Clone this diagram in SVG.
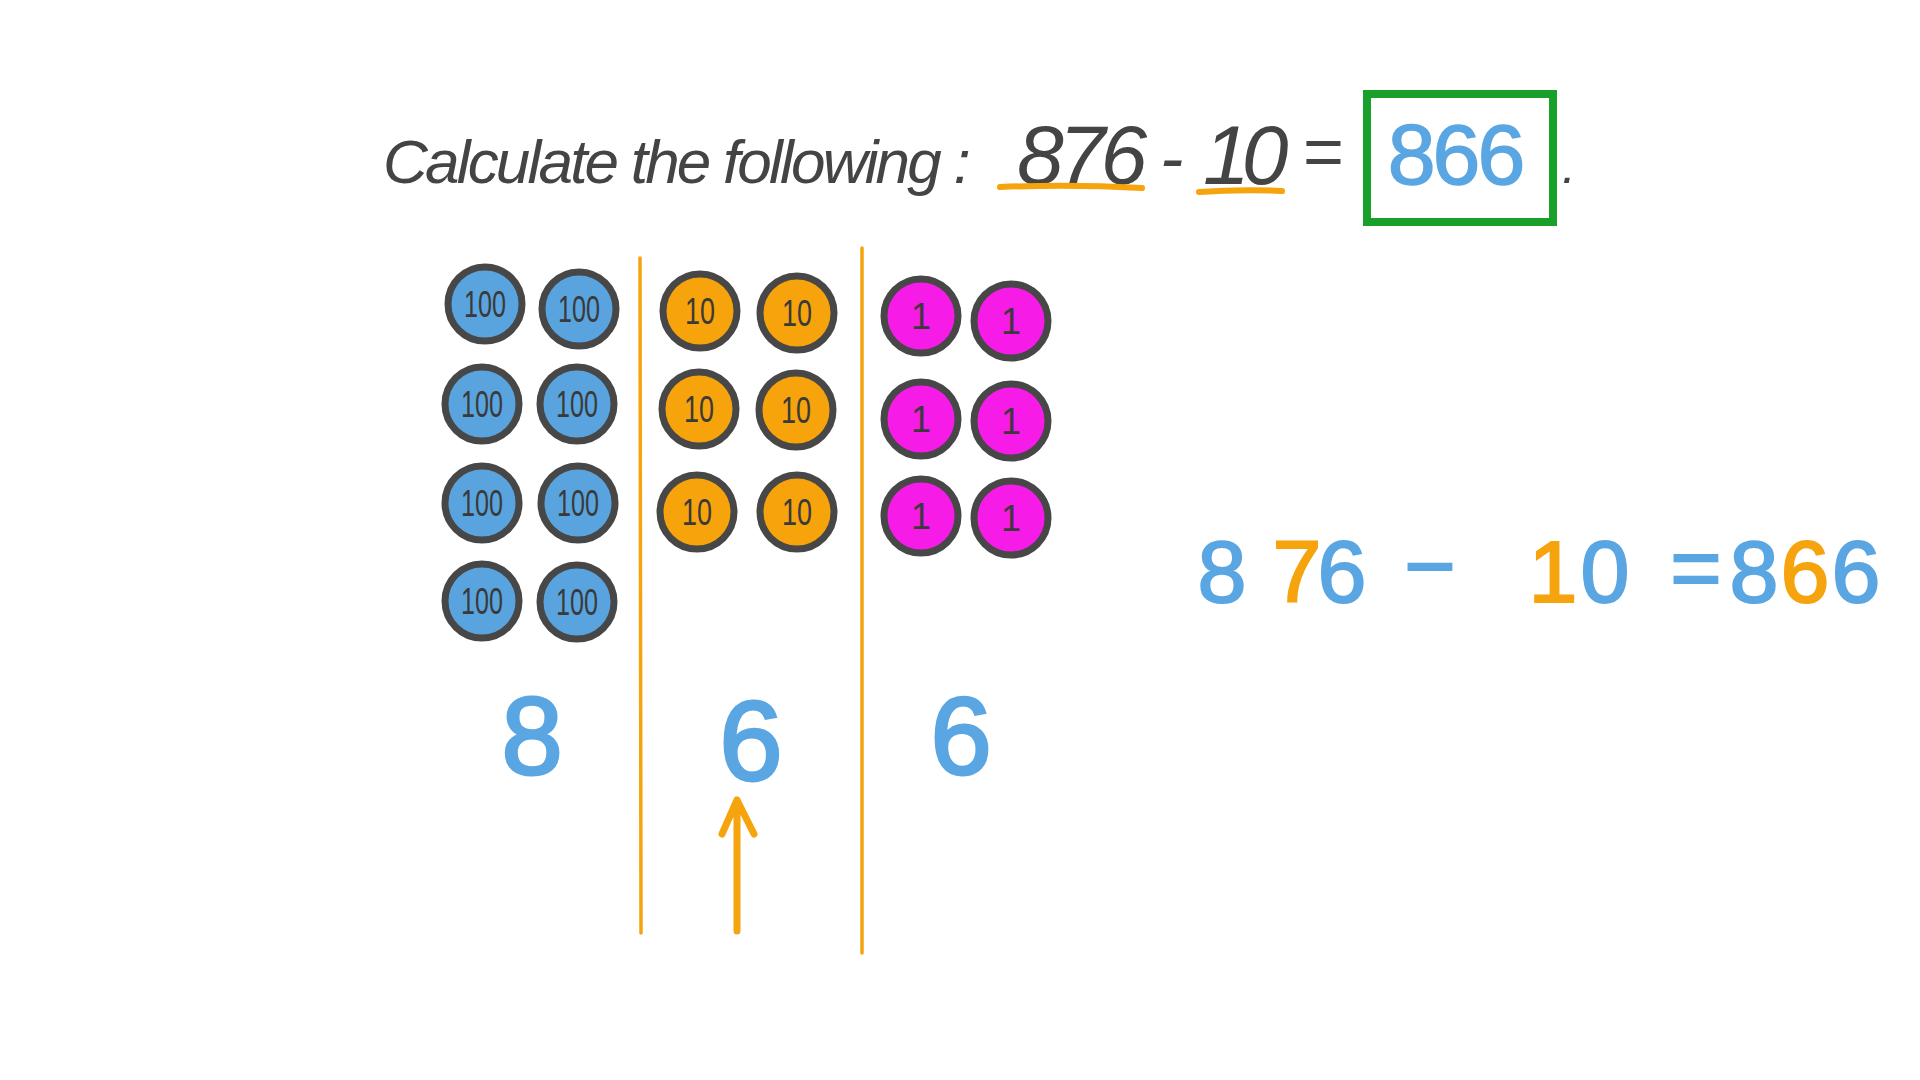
<svg xmlns="http://www.w3.org/2000/svg" width="1920" height="1080" viewBox="0 0 1920 1080">
<style>
.hand{font-family:"Liberation Sans",Arial,sans-serif;font-style:italic;fill:#444444;}
.dig{font-family:"Liberation Sans",Arial,sans-serif;text-anchor:middle;}
.blue{fill:#5aa6e2;stroke:#5aa6e2;}
.orange{fill:#f5a40e;stroke:#f5a40e;}
.coin{stroke:#474747;stroke-width:7;}
.c100{fill:#59a4df;}
.c10{fill:#f6a30c;}
.c1{fill:#f71be8;}
.ct{font-family:"Liberation Sans",Arial,sans-serif;font-size:36px;fill:#3a3a3a;text-anchor:middle;}
.div{stroke:#f5a40e;stroke-width:3.5;stroke-linecap:round;fill:none;}
.ul{stroke:#f5a40e;stroke-width:6;stroke-linecap:round;fill:none;}
</style>
<defs>
<g id="coin100"><circle r="37" class="coin c100"/><text y="13" class="ct" textLength="42" lengthAdjust="spacingAndGlyphs">100</text></g>
<g id="coin10"><circle r="37" class="coin c10"/><text y="13" class="ct" textLength="30" lengthAdjust="spacingAndGlyphs">10</text></g>
<g id="coin1"><circle r="37" class="coin c1"/><text y="13" class="ct">1</text></g>
</defs>
<rect width="1920" height="1080" fill="#ffffff"/>

<g id="title">
<text class="hand" x="383" y="183" font-size="62" letter-spacing="-2.8">Calculate the following :</text>
<text class="hand" x="1017" y="184" font-size="84" letter-spacing="-5">876</text>
<text class="hand" x="1160" y="182" font-size="70">-</text>
<text class="hand" x="1203" y="184" font-size="84" letter-spacing="-8">10</text>
<text class="hand" x="1302" y="176" font-size="70">=</text>
<path class="ul" d="M1000,187 Q1070,184 1142,188"/>
<path class="ul" d="M1199,192 Q1240,189 1282,191"/>
<rect x="1367" y="94" width="186" height="128" fill="none" stroke="#18a02b" stroke-width="8"/>
<text class="dig blue" x="1455" y="184" font-size="86" stroke-width="1.5" letter-spacing="-3">866</text>
<text class="hand" x="1562" y="183" font-size="50">.</text>
</g>

<g id="dividers">
<path class="div" d="M640,258 L641,933"/>
<path class="div" d="M862,248 L862,953"/>
</g>

<g id="hundreds">
<use id="h1" href="#coin100" x="485" y="304"/>
<use id="h2" href="#coin100" x="579" y="309"/>
<use id="h3" href="#coin100" x="482" y="404"/>
<use id="h4" href="#coin100" x="577" y="404"/>
<use id="h5" href="#coin100" x="482" y="503"/>
<use id="h6" href="#coin100" x="578" y="503"/>
<use id="h7" href="#coin100" x="482" y="601"/>
<use id="h8" href="#coin100" x="577" y="602"/>
</g>
<g id="tens">
<use id="t1" href="#coin10" x="700" y="311"/>
<use id="t2" href="#coin10" x="797" y="313"/>
<use id="t3" href="#coin10" x="699" y="409"/>
<use id="t4" href="#coin10" x="796" y="410"/>
<use id="t5" href="#coin10" x="697" y="512"/>
<use id="t6" href="#coin10" x="797" y="512"/>
</g>
<g id="ones">
<use id="o1" href="#coin1" x="921" y="316"/>
<use id="o2" href="#coin1" x="1011" y="321"/>
<use id="o3" href="#coin1" x="921" y="419"/>
<use id="o4" href="#coin1" x="1011" y="421"/>
<use id="o5" href="#coin1" x="921" y="516"/>
<use id="o6" href="#coin1" x="1011" y="518"/>
</g>

<g id="place-digits">
<text class="dig blue" x="532" y="774" font-size="110" stroke-width="3">8</text>
<text class="dig blue" x="751" y="780" font-size="114" stroke-width="3">6</text>
<text class="dig blue" x="961" y="774" font-size="110" stroke-width="3">6</text>
</g>

<g id="connectors">
<path d="M737,931 L737,800 M722,834 L737,800 L754,834" fill="none" stroke="#f5a40e" stroke-width="7" stroke-linecap="round" stroke-linejoin="round"/>
</g>

<g id="equation">
<text class="dig blue" x="1222" y="602" font-size="88" stroke-width="2">8</text>
<text class="dig orange" x="1297" y="602" font-size="88" stroke-width="2">7</text>
<text class="dig blue" x="1342" y="602" font-size="88" stroke-width="2">6</text>
<text class="dig blue" x="1430" y="596" font-size="88" stroke-width="2">−</text>
<text class="dig orange" x="1553" y="602" font-size="88" stroke-width="2">1</text>
<text class="dig blue" x="1605" y="602" font-size="88" stroke-width="2">0</text>
<text class="dig blue" x="1696" y="598" font-size="88" stroke-width="2">=</text>
<text class="dig blue" x="1754" y="602" font-size="88" stroke-width="2">8</text>
<text class="dig orange" x="1805" y="602" font-size="88" stroke-width="2">6</text>
<text class="dig blue" x="1856" y="602" font-size="88" stroke-width="2">6</text>
</g>
</svg>
